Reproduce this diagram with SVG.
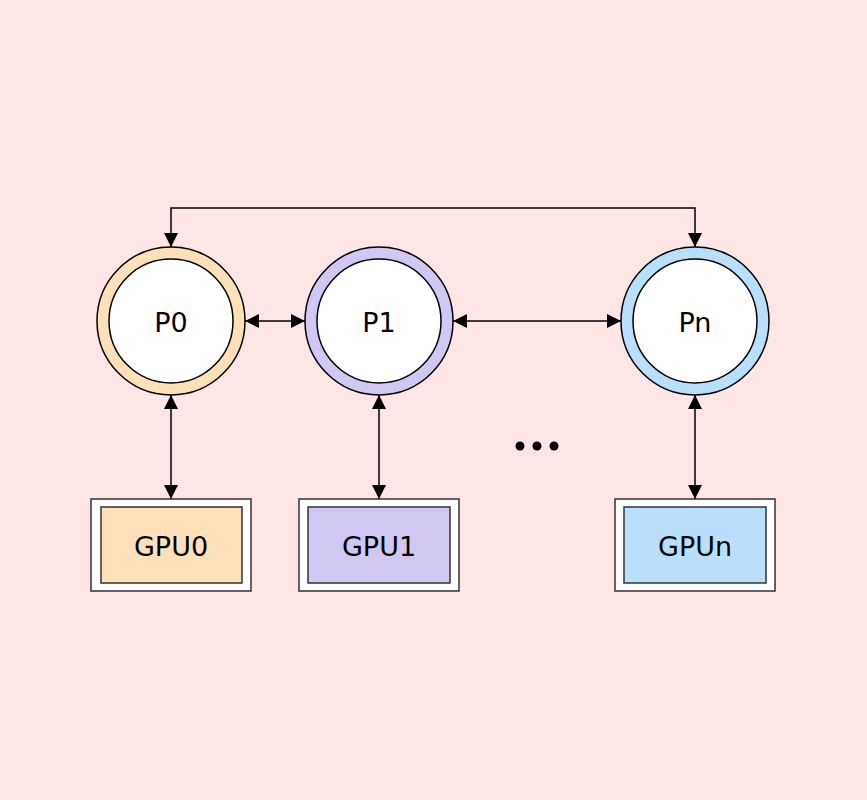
<svg xmlns="http://www.w3.org/2000/svg" width="867" height="800" viewBox="0 0 867 800">
<defs>
<marker id="ah2" viewBox="0 0 14 14" refX="14" refY="7" markerWidth="14" markerHeight="14" markerUnits="userSpaceOnUse" orient="auto-start-reverse">
<path d="M0,0 L14,7 L0,14 z" fill="#000"/>
</marker>
</defs>
<style>
.lbl{font-family:"DejaVu Sans",sans-serif;font-size:27px;fill:#000;text-anchor:middle;dominant-baseline:central}
.ring{stroke:#000;stroke-width:1.5}
.core{fill:#fff;stroke:#000;stroke-width:1.5}
.outer{fill:#fff;stroke:#333;stroke-width:1.5}
.inner{stroke:#333;stroke-width:1.5}
.c{fill:none;stroke:#000;stroke-width:1.5}
</style>
<rect width="867" height="800" fill="#FFE6E6"/>
<g id="connectors">
<path class="c" d="M171,247 V208 H695 V247" marker-start="url(#ah2)" marker-end="url(#ah2)"/>
<line class="c" x1="245" y1="321" x2="305" y2="321" marker-start="url(#ah2)" marker-end="url(#ah2)"/>
<line class="c" x1="453" y1="321" x2="621" y2="321" marker-start="url(#ah2)" marker-end="url(#ah2)"/>
<line class="c" x1="171" y1="395" x2="171" y2="499" marker-start="url(#ah2)" marker-end="url(#ah2)"/>
<line class="c" x1="379" y1="395" x2="379" y2="499" marker-start="url(#ah2)" marker-end="url(#ah2)"/>
<line class="c" x1="695" y1="395" x2="695" y2="499" marker-start="url(#ah2)" marker-end="url(#ah2)"/>
</g>
<g id="P0">
<circle class="ring" cx="171" cy="321" r="74" fill="#FFE0B8"/>
<circle class="core" cx="171" cy="321" r="62"/>
<text class="lbl" x="171" y="322">P0</text>
</g>
<g id="P1">
<circle class="ring" cx="379" cy="321" r="74" fill="#D0C8F2"/>
<circle class="core" cx="379" cy="321" r="62"/>
<text class="lbl" x="379" y="322">P1</text>
</g>
<g id="Pn">
<circle class="ring" cx="695" cy="321" r="74" fill="#B8E0FC"/>
<circle class="core" cx="695" cy="321" r="62"/>
<text class="lbl" x="695" y="322">Pn</text>
</g>
<g id="dots">
<circle cx="520" cy="446" r="4.5" fill="#000"/>
<circle cx="537" cy="446" r="4.5" fill="#000"/>
<circle cx="554" cy="446" r="4.5" fill="#000"/>
</g>
<g id="GPU0">
<rect class="outer" x="91" y="499" width="160" height="92"/>
<rect class="inner" x="101" y="507" width="141" height="76" fill="#FFE0B8"/>
<text class="lbl" x="171" y="546">GPU0</text>
</g>
<g id="GPU1">
<rect class="outer" x="299" y="499" width="160" height="92"/>
<rect class="inner" x="308" y="507" width="142" height="76" fill="#D0C8F2"/>
<text class="lbl" x="379" y="546">GPU1</text>
</g>
<g id="GPUn">
<rect class="outer" x="615" y="499" width="160" height="92"/>
<rect class="inner" x="624" y="507" width="142" height="76" fill="#B8E0FC"/>
<text class="lbl" x="695" y="546">GPUn</text>
</g>
</svg>
